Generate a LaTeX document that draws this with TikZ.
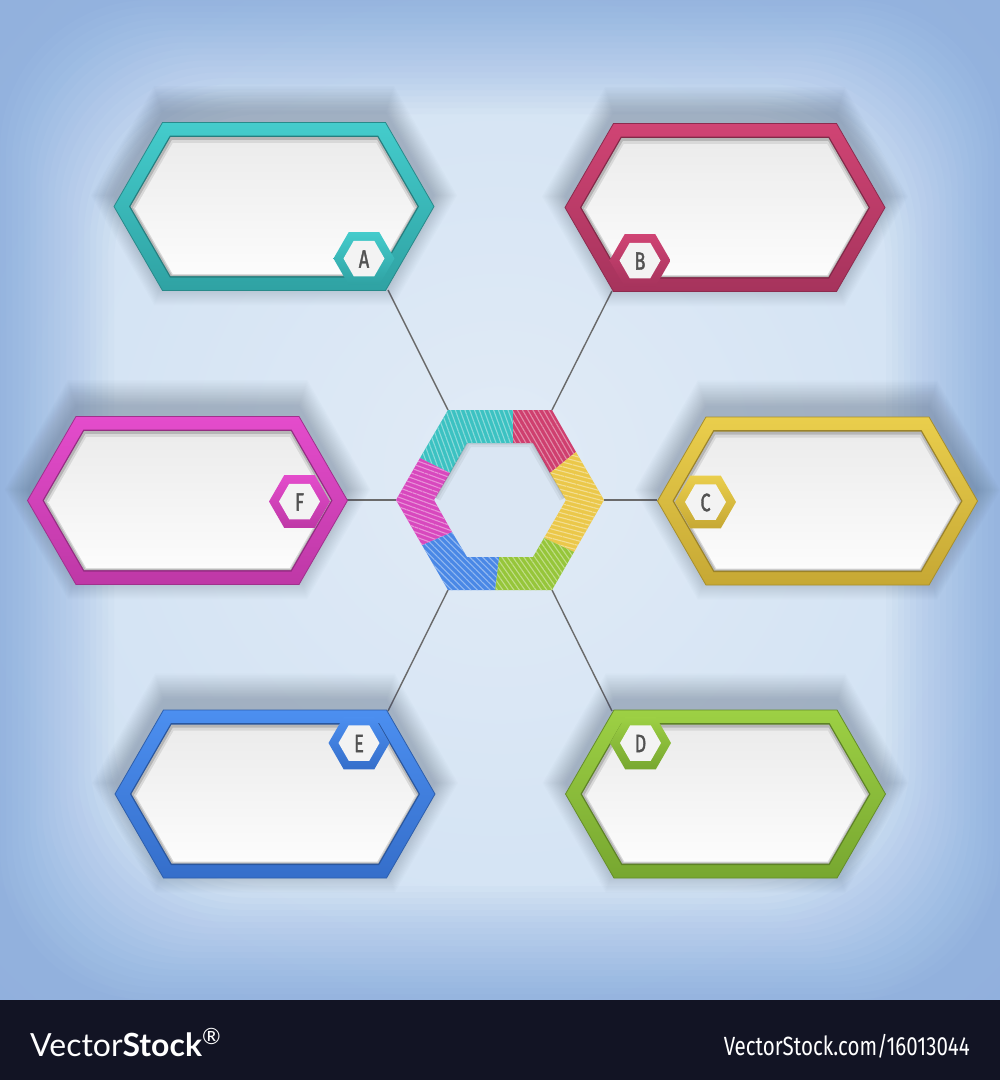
\documentclass[tikz,border=0pt]{standalone}
\usepackage{fontspec}
\usepackage{graphicx}
\usetikzlibrary{patterns.meta}
\newfontfamily\labfont[FakeStretch=0.72, FakeBold=1.5]{Fira Sans}
\newfontfamily\urlfont[FakeStretch=0.78]{Fira Sans}
\newfontfamily\wmfont{Lato}
\definecolor{bgin}{HTML}{E1EBF6}
\definecolor{bgout}{HTML}{C6DBF1}
\definecolor{edgec}{HTML}{5F8FD2}
\definecolor{shadowc}{HTML}{3E4E66}
\definecolor{wmbg}{HTML}{121424}
\definecolor{panelTop}{HTML}{ECECEC}
\definecolor{panelBot}{HTML}{FCFCFC}
\definecolor{panelsh}{HTML}{B6B6B6}
\definecolor{panelshb}{HTML}{D8D8D8}
\definecolor{labin}{HTML}{F3F3F3}
\definecolor{labtxt}{HTML}{525252}
\definecolor{conncol}{HTML}{6A6A6A}
\definecolor{tealT}{HTML}{44CCCC}\definecolor{tealB}{HTML}{2FA2A3}
\definecolor{crimT}{HTML}{D04474}\definecolor{crimB}{HTML}{A6335C}
\definecolor{magT}{HTML}{E44CCC}\definecolor{magB}{HTML}{BE38A6}
\definecolor{goldT}{HTML}{EACE4C}\definecolor{goldB}{HTML}{C6A834}
\definecolor{bluT}{HTML}{4C8FF0}\definecolor{bluB}{HTML}{356ECA}
\definecolor{grnT}{HTML}{9DD044}\definecolor{grnB}{HTML}{77A730}
\definecolor{sTeal}{HTML}{3CC2C2}
\definecolor{sCrim}{HTML}{CF3F6F}
\definecolor{sGold}{HTML}{EBC84A}
\definecolor{sGrn}{HTML}{96C63A}
\definecolor{sBlu}{HTML}{4A88E6}
\definecolor{sMag}{HTML}{D848BE}
\definecolor{holec}{HTML}{DAE6F3}
% hexagon with half-width #1 and half-height #2 (60 degree sides)
\newcommand\hx[2]{({-(#1)},0) -- ({-(#1)+0.577*(#2)},{-(#2)}) -- ({(#1)-0.577*(#2)},{-(#2)}) -- ({#1},0) -- ({(#1)-0.577*(#2)},{#2}) -- ({-(#1)+0.577*(#2)},{#2}) -- cycle}
% #1 name, #2 centre, #3 top colour, #4 bottom colour, #5 label offset, #6 letter
\newcommand\hexbox[6]{%
\begin{scope}[shift={#2}]
  \foreach \d in {0,1.5,...,25.5} {\fill[shadowc, opacity=0.02, shift={(0,-11)}] \hx{160+0.9*\d}{84+\d};}
  \shade[top color=#3, bottom color=#4] \hx{160}{84};
  \draw[#4!85!black, line width=0.8pt] \hx{160}{84};
  \fill[#4!78!black] \hx{145}{71};
  \fill[panelsh] \hx{143.5}{69.5};
  \fill[panelshb, shift={(0.5,1)}] \hx{141.5}{67.5};
  \shade[top color=panelTop, bottom color=panelBot, shift={(0.5,2)}] \hx{139.5}{65.5};
  \coordinate (#1) at (0,0);
  \begin{scope}[shift={#5}]
    \shade[top color=#3, bottom color=#4] \hx{30.5}{26.4};
    \fill[labin] \hx{20.5}{17.75};
    \node[labnode] (#1l) at (0,0.5) {#6};
  \end{scope}
\end{scope}}
\tikzset{
  labnode/.style={inner sep=0pt, text=labtxt, font={\labfont\fontsize{25}{25}\selectfont}},
  conn/.style={draw=conncol, line width=1.4pt},
  stripes/.style n args={2}{fill=#1, postaction={pattern={Lines[angle=#2,distance=4.5pt,line width=1.1pt]}, pattern color=#1!60!white}}
}
\begin{document}
\begin{tikzpicture}[x=1pt,y=-1pt]
\useasboundingbox (0,0) rectangle (1000,1080);
% background with soft vignette
\begin{scope}
  \clip (0,0) rectangle (1000,1000);
  \shade[inner color=bgin, outer color=bgout] (500,470) circle (900);
  \foreach \k in {0,...,19}
    \fill[edgec, opacity=0.03, even odd rule] (-5,-5) rectangle (1005,1005)
      [rounded corners=150pt] ({\k*6},{\k*6}) rectangle ({1000-\k*6},{1000-\k*6});
\end{scope}
% coordinates for connectors
\coordinate (vTL) at (448,410);
\coordinate (vTR) at (552,410);
\coordinate (vR) at (604,500);
\coordinate (vBR) at (552,590);
\coordinate (vBL) at (448,590);
\coordinate (vL) at (396,500);
\coordinate (cA) at (388,290);
\coordinate (cB) at (612,291);
\coordinate (cF) at (347,500);
\coordinate (cC) at (657,500);
\coordinate (cE) at (388,711);
\coordinate (cD) at (612,711);
\draw[conn] (cA) -- (vTL);
\draw[conn] (cB) -- (vTR);
\draw[conn] (cF) -- (vL);
\draw[conn] (cC) -- (vR);
\draw[conn] (cE) -- (vBL);
\draw[conn] (cD) -- (vBR);
% boxes
\hexbox{boxA}{(274,206.5)}{tealT}{tealB}{(90,52)}{A}
\hexbox{boxB}{(725,207.5)}{crimT}{crimB}{(-85,53)}{B}
\hexbox{boxF}{(187.5,500.5)}{magT}{magB}{(112,1)}{F}
\hexbox{boxC}{(817.5,501)}{goldT}{goldB}{(-112,1)}{C}
\hexbox{boxE}{(275,794)}{bluT}{bluB}{(84,-51)}{E}
\hexbox{boxD}{(725.5,794)}{grnT}{grnB}{(-85,-51)}{D}
% centre ring
\fill[holec] (566,500) -- (533,443) -- (467,443) -- (434,500) -- (467,557) -- (533,557) -- cycle;
\path[stripes={sTeal}{-70}] (420,458) -- (vTL) -- (513,410) -- (513,443) -- (467,443) -- (450,473) -- cycle;
\path[stripes={sCrim}{-60}] (513,410) -- (vTR) -- (576,452) -- (550,473) -- (533,443) -- (513,443) -- cycle;
\path[stripes={sGold}{-15}] (576,452) -- (vR) -- (574,552) -- (544,538) -- (566,500) -- (550,473) -- cycle;
\path[stripes={sGrn}{-55}] (574,552) -- (vBR) -- (495,590) -- (499,557) -- (533,557) -- (544,538) -- cycle;
\path[stripes={sBlu}{-45}] (495,590) -- (vBL) -- (422,545) -- (452,532) -- (467,557) -- (499,557) -- cycle;
\path[stripes={sMag}{-20}] (422,545) -- (vL) -- (420,458) -- (450,473) -- (434,500) -- (452,532) -- cycle;
\begin{scope}
  \clip (566,500) -- (533,443) -- (467,443) -- (434,500) -- (467,557) -- (533,557) -- cycle;
  \foreach \w/\o in {14/0.05,9/0.06,5/0.08,2.5/0.12}
    \draw[black, opacity=\o, line width=\w pt] (566,497) -- (533,440) -- (467,440) -- (434,497);
\end{scope}
% watermark bar
\fill[wmbg] (0,1000) rectangle (1000,1080);
\node[anchor=base west, inner sep=0pt, text=white] (wm1) at (30,1056) {\resizebox{192pt}{!}{\wmfont Vector\textbf{Stock}\textsuperscript{\fontsize{7}{7}\selectfont ®}}};
\node[anchor=base east, inner sep=0pt, text=white] (wm2) at (970,1055) {\resizebox{246pt}{!}{\urlfont VectorStock.com/16013044}};
\end{tikzpicture}
\end{document}
